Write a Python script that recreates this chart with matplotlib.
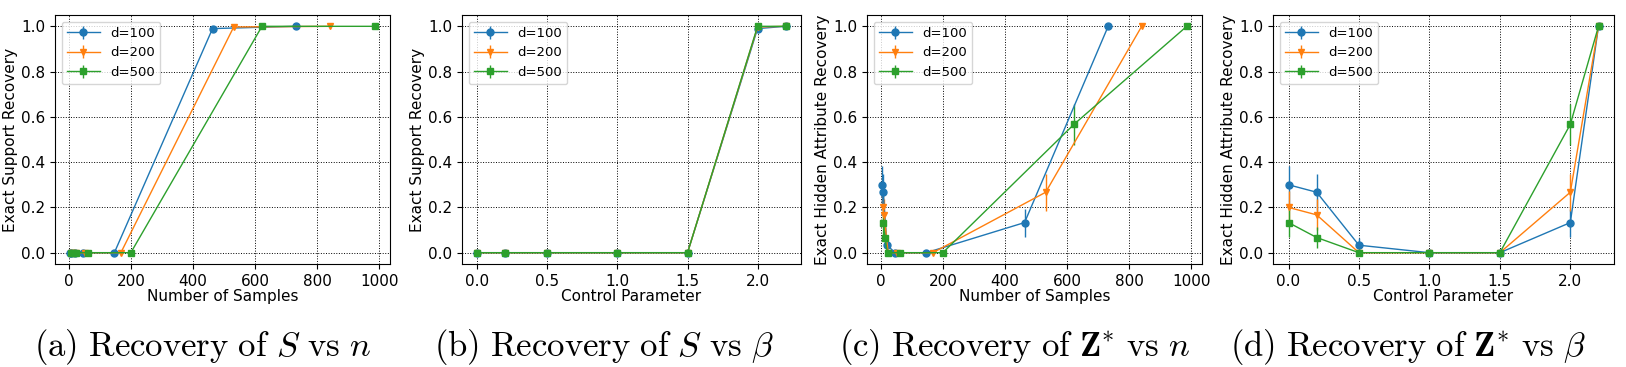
import matplotlib
matplotlib.use("Agg")
import matplotlib.pyplot as plt

plt.rcParams['mathtext.fontset'] = 'cm'

labels = ['d=100', 'd=200', 'd=500']
markers = ['o', 'v', 's']
colors = ['#1f77b4', '#ff7f0e', '#2ca02c']

beta = [0.0, 0.2, 0.5, 1.0, 1.5, 2.0, 2.2]

# number of samples used for each beta, per dimension
n_samples = [
    [5, 8, 20, 47, 147, 463, 732],
    [7, 11, 24, 52, 168, 531, 840],
    [9, 13, 22, 63, 200, 622, 985],
]

# exact support recovery
supp = [
    [0, 0, 0, 0, 0, 0.99, 1.0],
    [0, 0, 0, 0, 0, 0.997, 1.0],
    [0, 0, 0, 0, 0, 1.0, 1.0],
]
supp_err = [
    [0, 0, 0, 0, 0, 0.01, 0],
    [0, 0, 0, 0, 0, 0.005, 0],
    [0, 0, 0, 0, 0, 0, 0],
]

# exact hidden attribute recovery
hid = [
    [0.30, 0.267, 0.033, 0, 0, 0.133, 1.0],
    [0.20, 0.167, 0, 0, 0, 0.267, 1.0],
    [0.133, 0.067, 0, 0, 0, 0.567, 1.0],
]
hid_err = [
    [0.084, 0.081, 0.033, 0, 0, 0.062, 0],
    [0.073, 0.068, 0, 0, 0, 0.081, 0],
    [0.062, 0.045, 0, 0, 0, 0.090, 0],
]

captions = [
    r'$\mathrm{(a)\ Recovery\ of\ }S\mathrm{\ vs\ }n$',
    r'$\mathrm{(b)\ Recovery\ of\ }S\mathrm{\ vs\ }\beta$',
    r'$\mathrm{(c)\ Recovery\ of\ }\mathbf{Z}^{*}\mathrm{\ vs\ }n$',
    r'$\mathrm{(d)\ Recovery\ of\ }\mathbf{Z}^{*}\mathrm{\ vs\ }\beta$',
]
cap_x = [203, 604, 1015, 1408]

fig = plt.figure(figsize=(16.26, 3.67), dpi=100)
W, H = 1626.0, 367.0
lefts = [55, 462, 867, 1273]
widths = [335, 339, 335, 341]

panels = [
    ('samples', supp, supp_err, 'Number of Samples', 'Exact Support Recovery'),
    ('beta', supp, supp_err, 'Control Parameter', 'Exact Support Recovery'),
    ('samples', hid, hid_err, 'Number of Samples', 'Exact Hidden Attribute Recovery'),
    ('beta', hid, hid_err, 'Control Parameter', 'Exact Hidden Attribute Recovery'),
]

for i, (xkind, ys, errs, xl, yl) in enumerate(panels):
    ax = fig.add_axes([lefts[i] / W, 1 - 264 / H, widths[i] / W, 249 / H])
    for k in range(3):
        xs = n_samples[k] if xkind == 'samples' else beta
        ax.errorbar(xs, ys[k], yerr=errs[k], marker=markers[k], color=colors[k],
                    label=labels[k], markersize=5, linewidth=1, elinewidth=1)
    ax.set_ylim(-0.05, 1.05)
    ax.set_yticks([0.0, 0.2, 0.4, 0.6, 0.8, 1.0])
    if xkind == 'samples':
        ax.set_xticks([0, 200, 400, 600, 800, 1000])
    else:
        ax.set_xticks([0.0, 0.5, 1.0, 1.5, 2.0])
    ax.grid(True, color='black', linestyle=':', linewidth=0.7)
    ax.tick_params(labelsize=11)
    ax.set_xlabel(xl, fontsize=11, labelpad=0)
    ax.set_ylabel(yl, fontsize=11, labelpad=2)
    ax.legend(loc='upper left', fontsize=9.5, handlelength=2.5)
    fig.text(cap_x[i] / W, 1 - 347 / H, captions[i], ha='center', va='center',
             fontsize=25)

fig.savefig('out.png', dpi=100)
